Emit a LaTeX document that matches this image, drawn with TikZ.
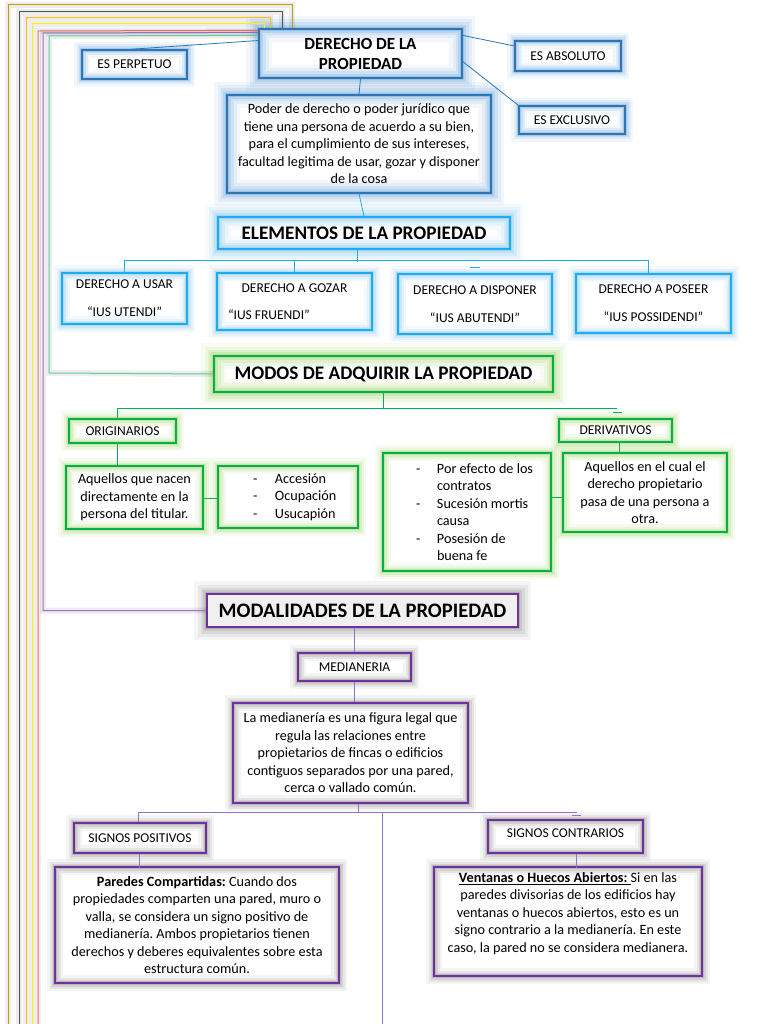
\documentclass[tikz,border=0pt]{standalone}
\usepackage{fontspec}
\setmainfont{Carlito}
\usetikzlibrary{calc}
\frenchspacing
\definecolor{bBord}{HTML}{2E75B6}
\definecolor{bGlow}{HTML}{5B9BD5}
\definecolor{cBord}{HTML}{1AAEEF}
\definecolor{cGlow}{HTML}{6FBCEB}
\definecolor{gBord}{HTML}{00B050}
\definecolor{gGlow}{HTML}{92D050}
\definecolor{pBord}{HTML}{7030A0}
\definecolor{pLine}{HTML}{9A6FCB}
\definecolor{shGray}{HTML}{7F7F7F}
\definecolor{fBrown}{HTML}{C49A10}
\definecolor{fGray}{HTML}{505050}
\definecolor{fGold}{HTML}{FFC000}
\definecolor{fYellow}{HTML}{FFF200}
\definecolor{fRed}{HTML}{FF6F6F}
\definecolor{fPurple}{HTML}{9B6FCC}
\definecolor{fGreen}{HTML}{5FCF95}
\newcommand\fzBody{\fontsize{14.2}{17.5}\selectfont}
\newcommand\fzLab{\fontsize{13.5}{17}\selectfont}
\newcommand\fzDer{\fontsize{17}{20}\selectfont\bfseries}
\newcommand\fzHead{\fontsize{19.2}{22}\selectfont\bfseries}
\newcommand\fzBig{\fontsize{20.6}{24}\selectfont\bfseries}
\begin{document}
\begin{tikzpicture}[x=1pt,y=-1pt,
  box/.style={draw, line width=1.3pt, inner sep=0pt, align=center},
  glow/.style={preaction={draw=#1,line width=26pt,opacity=0.07},preaction={draw=#1,line width=19pt,opacity=0.1},preaction={draw=#1,line width=13pt,opacity=0.14},preaction={draw=#1,line width=8pt,opacity=0.2},preaction={draw=#1,line width=3.5pt,opacity=0.3}},
  softglow/.style={preaction={draw=#1,line width=16pt,opacity=0.08},preaction={draw=#1,line width=11pt,opacity=0.12},preaction={draw=#1,line width=7pt,opacity=0.18},preaction={draw=#1,line width=3.5pt,opacity=0.28}},
  bbox/.style={box, draw=bBord, glow=bGlow},
  sbox/.style={box, draw=bBord, softglow=bGlow},
  hbox/.style={box, draw=cBord, glow=cGlow},
  cbox/.style={box, draw=cBord, softglow=cGlow},
  ghead/.style={box, draw=gBord, glow=gGlow},
  gbox/.style={box, draw=gBord, softglow=gGlow},
  pbox/.style={box, draw=pBord, softglow=shGray},
  phead/.style={box, draw=pBord, glow=shGray, fill=black!6},
  txt/.style={inner sep=0pt, align=center, font=\fzBody},
  bline/.style={draw=bBord, line width=0.8pt},
  cline/.style={draw=cBord, line width=0.8pt},
  gline/.style={draw=gBord, line width=0.9pt},
  pline/.style={draw=pLine, line width=0.9pt},
  frameline/.style={line width=1pt, preaction={draw=black, opacity=0.07, line width=6pt}}
]
\useasboundingbox (0,0) rectangle (768,1024);
\fill[white] (0,0) rectangle (768,1024);

% ---------- top block ----------
\node[bbox, minimum width=203pt, minimum height=49pt, font=\fzDer] (der) at (360.5,53.5) {DERECHO DE LA\\PROPIEDAD};
\node[sbox, minimum width=105pt, minimum height=29pt, font=\fzLab] (perp) at (134.5,64.5) {ES PERPETUO};
\node[sbox, minimum width=106pt, minimum height=30pt, font=\fzLab] (abso) at (568,56) {ES ABSOLUTO};
\node[sbox, minimum width=106pt, minimum height=28pt, font=\fzLab] (excl) at (572,120) {ES EXCLUSIVO};
\node[bbox, minimum width=264pt, minimum height=98pt, font=\fzBody] (poder) at (359,144)
  {Poder de derecho o poder jurídico que\\tiene una persona de acuerdo a su bien,\\para el cumplimiento de sus intereses,\\facultad legitima de usar, gozar y disponer\\de la cosa};

% ---------- frame lines ----------
\coordinate (eBrown) at (8,1024);
\coordinate (eGray) at (19,1024);
\coordinate (eGold) at (26,1024);
\coordinate (eYellow) at (32,1024);
\coordinate (eRed) at (38,1024);
\draw[frameline, draw=fBrown] ($(der.north west)+(34,0)$) |- (8,5) -- (eBrown);
\draw[frameline, draw=fGray] ($(der.north west)+(24,0)$) |- (19,12) -- (eGray);
\draw[frameline, draw=fGold] ($(der.north west)+(12,0)$) |- (26,18) -- (eGold);
\draw[frameline, draw=fYellow] ($(der.north west)+(6,0)$) |- (32,24) -- (eYellow);
\draw[frameline, draw=fRed] ($(der.north west)+(0,2)$) -- (38,31) -- (eRed);

% ---------- top connectors ----------
\draw[bline] (der.south) -- (poder.north);
\draw[bline] ($(der.north east)+(0,7)$) -- ($(abso.west)+(0,-10)$);
\draw[bline] ($(der.east)+(0,8)$) -- (excl.north west);
\draw[bline] ($(perp.north)+(-4.5,0)$) -- ($(der.west)+(0,-13)$);

% ---------- elementos ----------
\node[hbox, minimum width=292pt, minimum height=32pt, font=\fzHead] (elem) at (364,233) {ELEMENTOS DE LA PROPIEDAD};
\node[cbox, minimum width=125pt, minimum height=51pt, font=\fzLab] (usar) at (124.5,298.5) {DERECHO A USAR\\[11pt]“IUS UTENDI”};
\node[cbox, minimum width=155pt, minimum height=57pt, font=\fzLab, align=left] (gozar) at (294.5,301.5)
  {\makebox[145pt]{DERECHO A GOZAR}\\[10pt]\hspace*{6pt}“IUS FRUENDI”};
\node[cbox, minimum width=154pt, minimum height=60pt, font=\fzLab] (disp) at (475,304) {DERECHO A DISPONER\\[11pt]“IUS ABUTENDI”};
\node[cbox, minimum width=155pt, minimum height=59pt, font=\fzLab] (pos) at (653.5,303.5) {DERECHO A POSEER\\[11pt]“IUS POSSIDENDI”};

\draw[cline] (poder.south) -- (elem.north);
\coordinate (eh) at ($(elem.south)+(-7,12)$);
\draw[cline] ($(elem.south)+(-7,0)$) -- (eh);
\draw[cline] (usar.north) |- ($(pos.north)+(-5.5,-13)$) -- ($(pos.north)+(-5.5,0)$);
\draw[cline] (gozar.north) -- ++(0,-12);
\draw[cline] ($(disp.north)+(-5,-6)$) -- ++(10,0);

% ---------- modos ----------
\node[ghead, minimum width=339pt, minimum height=36pt, font=\fzHead] (modos) at (383.5,374) {MODOS DE ADQUIRIR LA PROPIEDAD};
\node[gbox, minimum width=107pt, minimum height=24pt, font=\fzLab] (orig) at (122.5,431) {ORIGINARIOS};
\node[gbox, minimum width=137pt, minimum height=63pt, font=\fzBody] (origd) at (134.5,497.5) {Aquellos que nacen\\directamente en la\\persona del titular.};
\node[gbox, minimum width=140pt, minimum height=62pt, font=\fzBody, align=left] (acc) at (288,497)
  {\makebox[140pt][l]{\hspace*{35pt}\makebox[22pt][l]{-}Accesión}\\
   \makebox[140pt][l]{\hspace*{35pt}\makebox[22pt][l]{-}Ocupación}\\
   \makebox[140pt][l]{\hspace*{35pt}\makebox[22pt][l]{-}Usucapión}};
\node[gbox, minimum width=113pt, minimum height=23pt, font=\fzLab] (deriv) at (615.5,430.5) {DERIVATIVOS};
\node[gbox, minimum width=164pt, minimum height=79pt, font=\fzBody] (derivd) at (645,492.5) {Aquellos en el cual el\\derecho propietario\\pasa de una persona a\\otra.};
\node[gbox, minimum width=168pt, minimum height=118pt, font=\fzBody, align=left] (pore) at (467,512)
  {\makebox[168pt][l]{\hspace*{33pt}\makebox[21pt][l]{-}Por efecto de los}\\
   \makebox[168pt][l]{\hspace*{54pt}contratos}\\
   \makebox[168pt][l]{\hspace*{33pt}\makebox[21pt][l]{-}Sucesión mortis}\\
   \makebox[168pt][l]{\hspace*{54pt}causa}\\
   \makebox[168pt][l]{\hspace*{33pt}\makebox[21pt][l]{-}Posesión de}\\
   \makebox[168pt][l]{\hspace*{54pt}buena fe}};

\coordinate (mh) at ($(modos.south)+(0,16)$);
\draw[gline] (modos.south) -- (mh);
\draw[gline] ($(orig.north)+(-5.5,0)$) |- ($(mh)+(233.5,0)$);
\draw[gline] ($(deriv.north)+(-2.5,-6)$) -- ++(9,0);
\draw[gline] ($(orig.south)+(-5.5,0)$) -- ($(origd.north)+(-17.5,0)$);
\draw[gline] ($(origd.east)+(0,0.5)$) -- ($(acc.west)+(0,1)$);
\draw[gline] ($(deriv.south)+(3.5,0)$) -- ($(derivd.north)+(-26,0)$);
\draw[gline] ($(pore.east)+(0,-15)$) -- ($(derivd.west)+(0,4.5)$);

% ---------- modalidades ----------
\node[phead, minimum width=311pt, minimum height=33pt, font=\fzBig] (moda) at (362.5,610.5) {MODALIDADES DE LA PROPIEDAD};
\node[pbox, minimum width=113pt, minimum height=28pt, font=\fzLab] (med) at (354.5,667) {MEDIANERIA};
\node[pbox, minimum width=235pt, minimum height=100pt, font=\fzBody] (medd) at (350.5,753)
  {La medianería es una figura legal que\\regula las relaciones entre\\propietarios de fincas o edificios\\contiguos separados por una pared,\\cerca o vallado común.};
\node[pbox, minimum width=132pt, minimum height=30pt, font=\fzLab] (spos) at (140,838) {SIGNOS POSITIVOS};
\node[pbox, minimum width=284pt, minimum height=116pt, font=\fzBody] (pared) at (197,925)
  {\textbf{Paredes Compartidas:} Cuando dos\\propiedades comparten una pared, muro o\\valla, se considera un signo positivo de\\medianería. Ambos propietarios tienen\\derechos y deberes equivalentes sobre esta\\estructura común.};
\node[pbox, minimum width=155pt, minimum height=33pt] (scon) at (565.5,836.5) {};
\node[txt, font=\fzLab] (sconT) at (565.5,833) {SIGNOS CONTRARIOS};
\node[pbox, minimum width=268pt, minimum height=109pt] (vent) at (568,921.5) {};
\node[txt] (ventT) at (568,913.5)
  {\underline{\textbf{Ventanas o Huecos Abiertos: }}Si en las\\paredes divisorias de los edificios hay\\ventanas o huecos abiertos, esto es un\\signo contrario a la medianería. En este\\caso, la pared no se considera medianera.};

\draw[pline] (med.north) -- (med.north |- moda.south);
\draw[pline] (med.south) -- (med.south |- medd.north);
\coordinate (mdh) at ($(medd.south)+(7.5,9)$);
\coordinate (vend) at (382,1024);
\draw[pline] ($(medd.south)+(7.5,0)$) -- (mdh);
\draw[pline] ($(spos.north)+(-2,0)$) |- ($(mdh)+(219,0)$);
\draw[pline, line width=1.3pt] ($(mdh)+(214,2.5)$) -- ++(9,0);
\draw[pline] (mdh -| vend) -- (vend);
\draw[pline] ($(spos.south)+(-1,0)$) -- ++(0,14);
\draw[pline] ($(scon.south)+(10.5,0)$) -- ++(0,14);

% ---------- long frame lines to section heads ----------
\draw[frameline, draw=fPurple] ($(der.north west)+(0,4)$) -- (43,33) -- (43,610.5) -- (moda.west);
\draw[frameline, draw=fGreen] ($(der.north west)+(0,7)$) -- (49,36) -- (49,373) -- (modos.west);
\end{tikzpicture}
\end{document}
